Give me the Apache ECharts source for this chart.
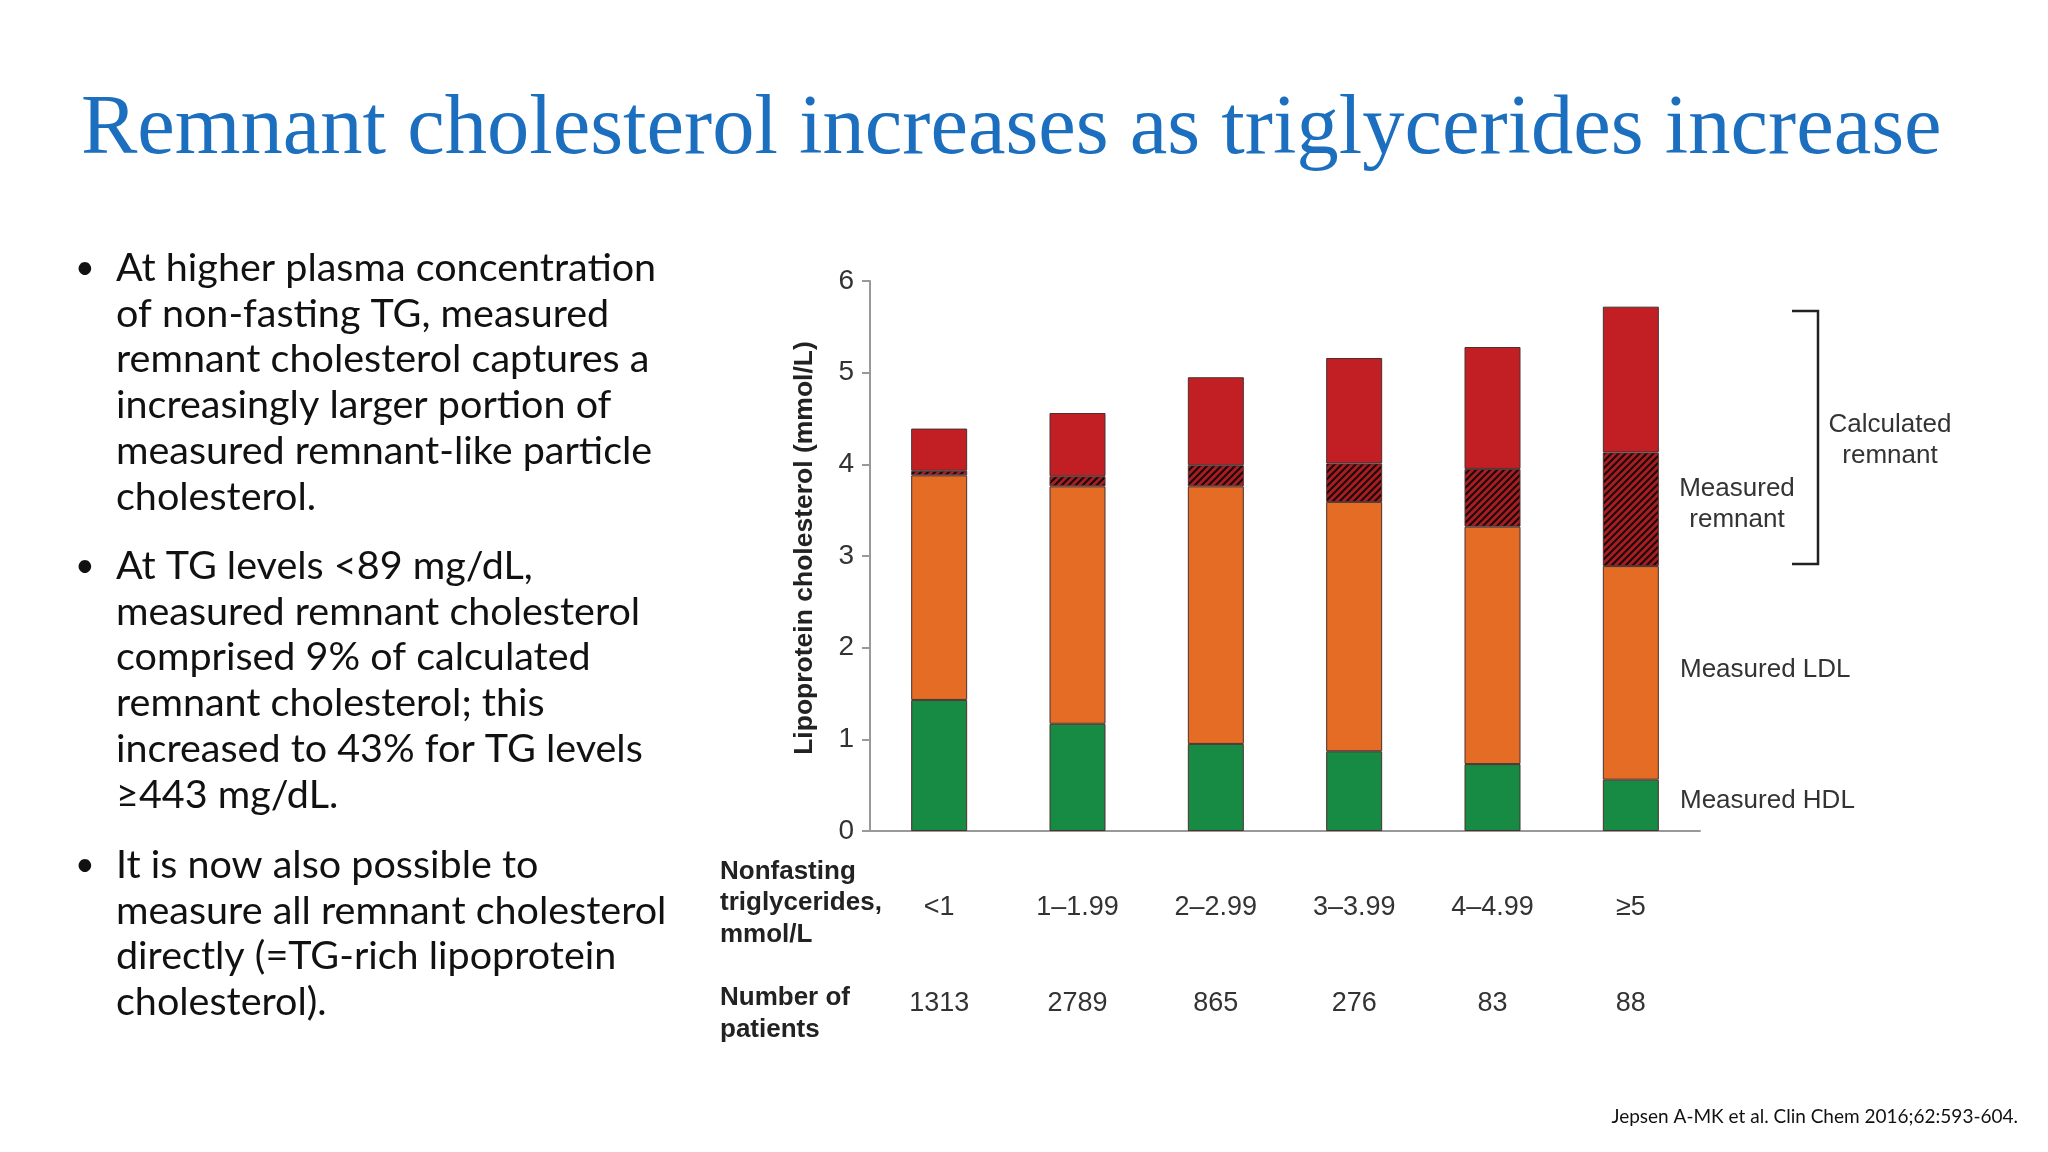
<!DOCTYPE html>
<html>
<head>
<meta charset="utf-8">
<script src="https://cdn.jsdelivr.net/npm/echarts@6/dist/echarts.min.js"></script>
<style>
    html, body { margin: 0; padding: 0; background: #fff; }
    #chart { width: 2048px; height: 1152px; }
</style>
</head>
<body>
<div id="chart"></div>
<script>
    // categories: nonfasting triglycerides, mmol/L
    const tgGroups = ['<1', '1–1.99', '2–2.99', '3–3.99', '4–4.99', '≥5']
    const patients = ['1313', '2789', '865', '276', '83', '88']

    // stacked segments, mmol/L
    const hdl = [1.43, 1.17, 0.95, 0.87, 0.73, 0.56]
    const ldl = [2.45, 2.59, 2.81, 2.72, 2.59, 2.33]
    const measuredRemnant = [0.05, 0.11, 0.23, 0.42, 0.63, 1.24]
    const calcRemnantRest = [0.46, 0.69, 0.96, 1.15, 1.33, 1.59]

    const yTicks = [0, 6, 1]

    const bullets = [
        ['At higher plasma concentrations', 'of non-fasting TG, measured', 'remnant cholesterol captures an',
            'increasingly larger portion of', 'measured remnant-like particle', 'cholesterol.'],
        ['At TG levels <89 mg/dL,', 'measured remnant cholesterol', 'comprised 9% of calculated',
            'remnant cholesterol; this', 'increased to 43% for TG levels', '≥443 mg/dL.'],
        ['It is now also possible to', 'measure all remnant cholesterol', 'directly (=TG-rich lipoprotein',
            'cholesterol).']
    ]

    // hatch pattern for measured remnant
    let hatch = document.createElement('canvas')
    hatch.width = 7
    hatch.height = 7
    let hc = hatch.getContext('2d')
    hc.fillStyle = '#A81D22'
    hc.fillRect(0, 0, 7, 7)
    hc.strokeStyle = '#1a0a0a'
    hc.lineWidth = 2
    hc.beginPath()
    hc.moveTo(-1, 8); hc.lineTo(8, -1)
    hc.moveTo(-1, 1); hc.lineTo(1, -1)
    hc.moveTo(6, 8); hc.lineTo(8, 6)
    hc.stroke()

    const sans = 'Liberation Sans, Arial, sans-serif'
    const textFont = 'Lato, sans-serif'

    let graphics = [{
        type: 'text', left: 81, top: 88,
        style: {
            text: 'Remnant cholesterol increases as triglycerides increase',
            font: '84.5px "Liberation Serif", serif', fill: '#1C6EBE'
        }
    }]

    let starts = [268, 566, 865]
    bullets.forEach((lines, bi) => {
        graphics.push({
            type: 'text', x: 75, y: starts[bi],
            style: { text: '•', font: '34px ' + textFont, fill: '#111', verticalAlign: 'middle' }
        })
        lines.forEach((line, li) => {
            // text box is clipped on the right, as in the slide
            graphics.push({
                type: 'text', x: 116, y: starts[bi] + li * 45.8,
                style: {
                    text: line, font: '39.5px ' + textFont, fill: '#111', verticalAlign: 'middle',
                    width: 555, overflow: 'truncate', ellipsis: ''
                }
            })
        })
    })

    graphics.push(
        {
            type: 'text', x: 720, y: 903,
            style: {
                text: 'Nonfasting\ntriglycerides,\nmmol/L', font: 'bold 26px ' + sans, fill: '#222',
                lineHeight: 31.5, verticalAlign: 'middle'
            }
        },
        {
            type: 'text', x: 720, y: 1014,
            style: {
                text: 'Number of\npatients', font: 'bold 26px ' + sans, fill: '#222',
                lineHeight: 32, verticalAlign: 'middle'
            }
        },
        {
            type: 'polyline',
            shape: { points: [[1792, 311], [1818, 311], [1818, 564], [1792, 564]] },
            style: { stroke: '#222', lineWidth: 2.5, fill: null }
        },
        {
            type: 'text', x: 1890, y: 440,
            style: {
                text: 'Calculated\nremnant', font: '26px ' + sans, fill: '#333',
                lineHeight: 31, align: 'center', verticalAlign: 'middle'
            }
        },
        {
            type: 'text', x: 1737, y: 504,
            style: {
                text: 'Measured\nremnant', font: '26px ' + sans, fill: '#333',
                lineHeight: 31, align: 'center', verticalAlign: 'middle'
            }
        },
        {
            type: 'text', x: 1680, y: 670,
            style: { text: 'Measured LDL', font: '26px ' + sans, fill: '#333', verticalAlign: 'middle' }
        },
        {
            type: 'text', x: 1680, y: 801,
            style: { text: 'Measured HDL', font: '26px ' + sans, fill: '#333', verticalAlign: 'middle' }
        },
        {
            type: 'text', x: 2018, y: 1117,
            style: {
                text: 'Jepsen A-MK et al. Clin Chem 2016;62:593-604.', font: '19px ' + textFont,
                fill: '#111', align: 'right', verticalAlign: 'middle'
            }
        }
    )

    const barStyle = color => ({ color: color, borderColor: '#4a3030', borderWidth: 1 })

    let option = {
        backgroundColor: '#fff',
        animation: false,
        grid: { left: 870, top: 281, width: 830, height: 550 },
        xAxis: [{
            type: 'category',
            data: tgGroups,
            position: 'bottom',
            axisLine: { lineStyle: { color: '#999', width: 2 } },
            axisTick: { show: false },
            axisLabel: { color: '#333', fontSize: 27, fontFamily: sans, margin: 63 }
        }, {
            type: 'category',
            data: patients,
            position: 'bottom',
            axisLine: { show: false },
            axisTick: { show: false },
            axisLabel: { color: '#333', fontSize: 27, fontFamily: sans, margin: 159 }
        }],
        yAxis: {
            type: 'value',
            min: yTicks[0], max: yTicks[1], interval: yTicks[2],
            name: 'Lipoprotein cholesterol (mmol/L)',
            nameLocation: 'middle',
            nameGap: 52,
            nameTextStyle: {
                fontSize: 26.5, fontWeight: 'bold', fontFamily: sans, color: '#222',
                padding: [0, 0, 0, 16]
            },
            splitLine: { show: false },
            axisLine: { show: true, lineStyle: { color: '#999', width: 2 } },
            axisTick: { show: true, length: 8, lineStyle: { color: '#999', width: 2 } },
            axisLabel: { color: '#333', fontSize: 28, fontFamily: sans, margin: 16 }
        },
        series: [
            { name: 'Measured HDL', type: 'bar', stack: 'c', barWidth: 56, data: hdl, itemStyle: barStyle('#178A43') },
            { name: 'Measured LDL', type: 'bar', stack: 'c', barWidth: 56, data: ldl, itemStyle: barStyle('#E46C24') },
            {
                name: 'Measured remnant', type: 'bar', stack: 'c', barWidth: 56, data: measuredRemnant,
                itemStyle: barStyle({ image: hatch, repeat: 'repeat' })
            },
            { name: 'Calculated remnant', type: 'bar', stack: 'c', barWidth: 56, data: calcRemnantRest, itemStyle: barStyle('#C21F25') }
        ],
        graphic: graphics
    }

    let chart = echarts.init(document.getElementById('chart'))
    chart.setOption(option)
</script>
</body>
</html>
